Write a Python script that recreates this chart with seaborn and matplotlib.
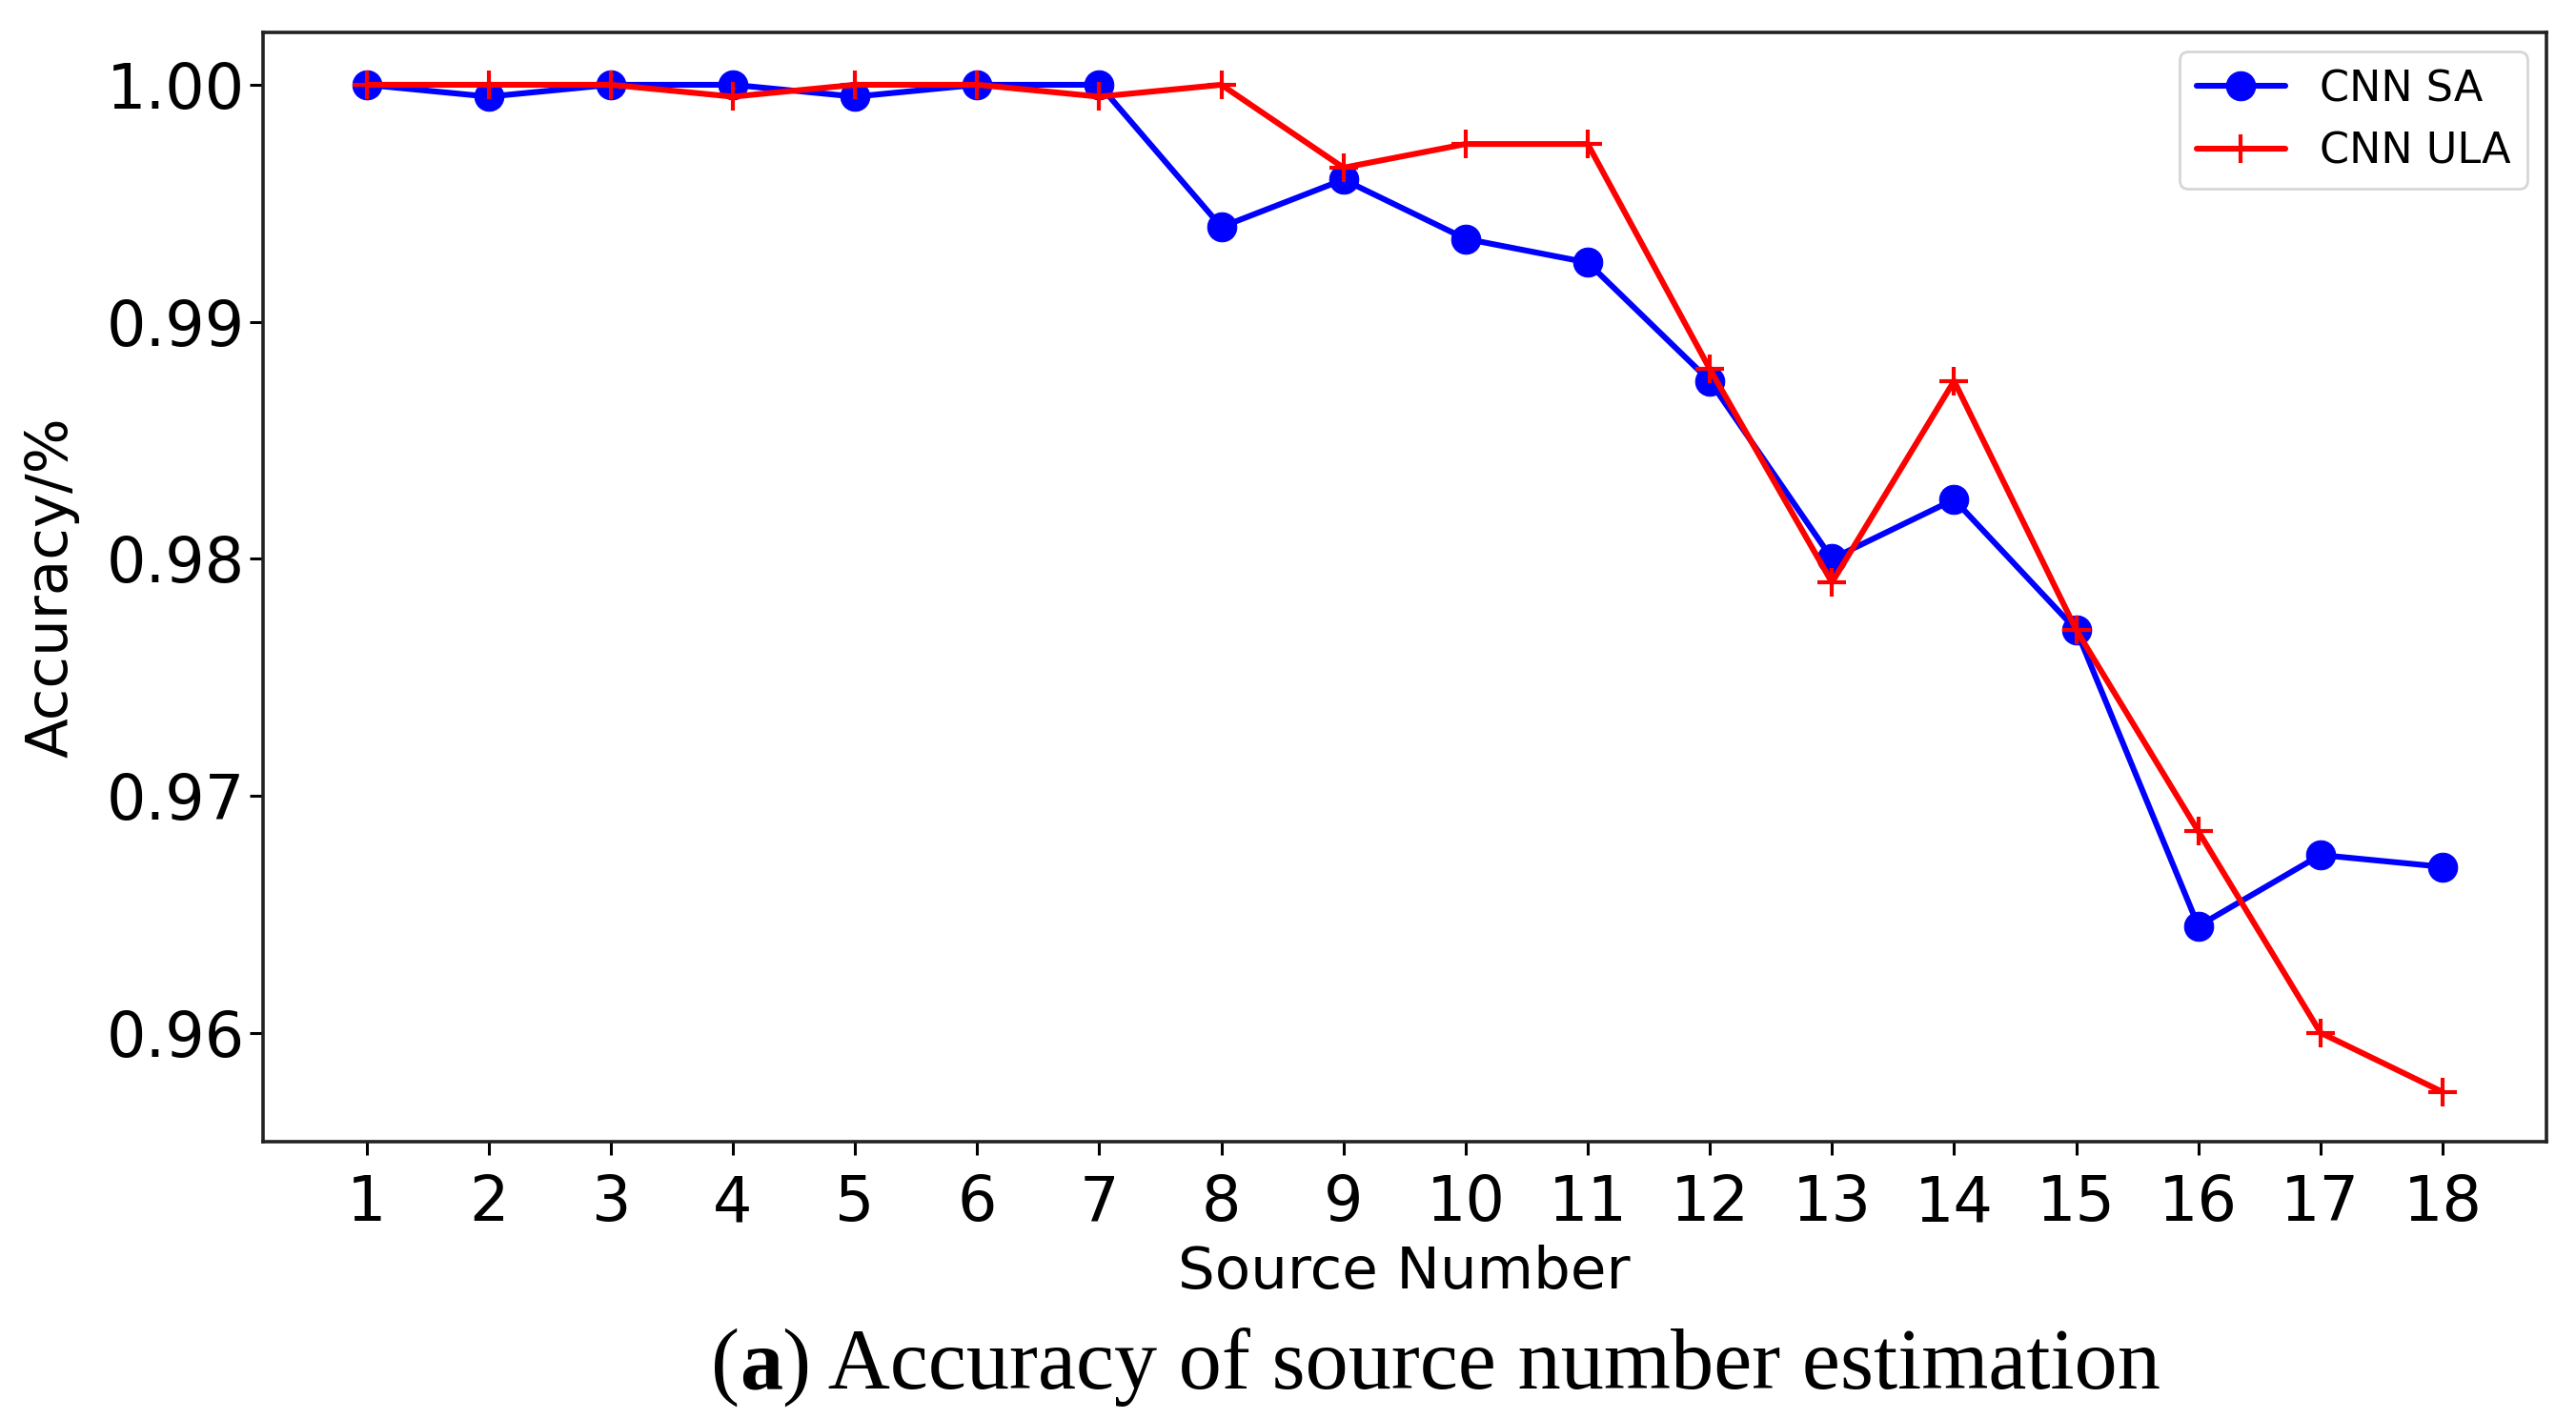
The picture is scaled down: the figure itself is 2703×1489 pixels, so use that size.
import matplotlib
matplotlib.use("Agg")
import matplotlib.pyplot as plt
import seaborn as sns

# style
sns.set_style("ticks")
plt.rcParams['font.family'] = ['DejaVu Sans']
plt.rcParams['text.color'] = 'black'
plt.rcParams['axes.labelcolor'] = 'black'

# data
source_number = [1, 2, 3, 4, 5, 6, 7, 8, 9, 10, 11, 12, 13, 14, 15, 16, 17, 18]
acc_cnn_sa = [1.000, 0.9995, 1.000, 1.000, 0.9995, 1.000, 1.000, 0.994, 0.996,
              0.9935, 0.9925, 0.9875, 0.980, 0.9825, 0.977, 0.9645, 0.9675, 0.967]
acc_cnn_ula = [1.000, 1.000, 1.000, 0.9995, 1.000, 1.000, 0.9995, 1.000, 0.9965,
               0.9975, 0.9975, 0.988, 0.979, 0.9875, 0.977, 0.9685, 0.960, 0.9575]
y_ticks = [0.96, 0.97, 0.98, 0.99, 1.00]

fig = plt.figure(figsize=(27.03, 14.89), dpi=100)
ax = fig.add_axes([0.102, 0.1954, 0.8865, 0.7816])

sns.lineplot(x=source_number, y=acc_cnn_sa, ax=ax, color='blue', linewidth=4.4,
             marker='o', markersize=22, markeredgecolor='blue', label='CNN SA')
sns.lineplot(x=source_number, y=acc_cnn_ula, ax=ax, color='red', linewidth=4.4,
             marker='+', markersize=22, markeredgewidth=3, markeredgecolor='red',
             label='CNN ULA')

ax.set_xlim(0.15, 18.85)
ax.set_ylim(0.9554, 1.0022)
ax.set_xticks(source_number)
ax.set_yticks(y_ticks)
ax.set_yticklabels([f"{v:.2f}" for v in y_ticks])
ax.tick_params(axis='both', labelsize=47, length=10, width=2.2, colors='black')
ax.tick_params(axis='x', pad=14)
for sp in ax.spines.values():
    sp.set_linewidth(2.6)
    sp.set_color('#222222')

ax.set_xlabel("Source Number", fontsize=44, labelpad=8)
ax.set_ylabel("Accuracy/%", fontsize=44, labelpad=20)

leg = ax.legend(loc='upper right', fontsize=32, frameon=True, handlelength=2.1,
                borderaxespad=0.45, fancybox=True)
leg.get_frame().set_edgecolor('#cccccc')
leg.get_frame().set_linewidth(2)
for t in leg.get_texts():
    t.set_color('black')

# caption under the figure, serif with bold "a"
cap = dict(fontsize=65, family='Liberation Serif', va='baseline', color='black')
t1 = fig.text(0.276, 0.0215, "(", **cap)
t2 = ax.annotate("a", xy=(1, 0), xycoords=t1, va='bottom', ha='left',
                 fontsize=65, family='Liberation Serif', fontweight='bold',
                 color='black', annotation_clip=False)
t3 = ax.annotate(") Accuracy of source number estimation", xy=(1, 0), xycoords=t2,
                 va='bottom', ha='left', fontsize=65, family='Liberation Serif',
                 color='black', annotation_clip=False)

fig.savefig("out.png", dpi=100)
